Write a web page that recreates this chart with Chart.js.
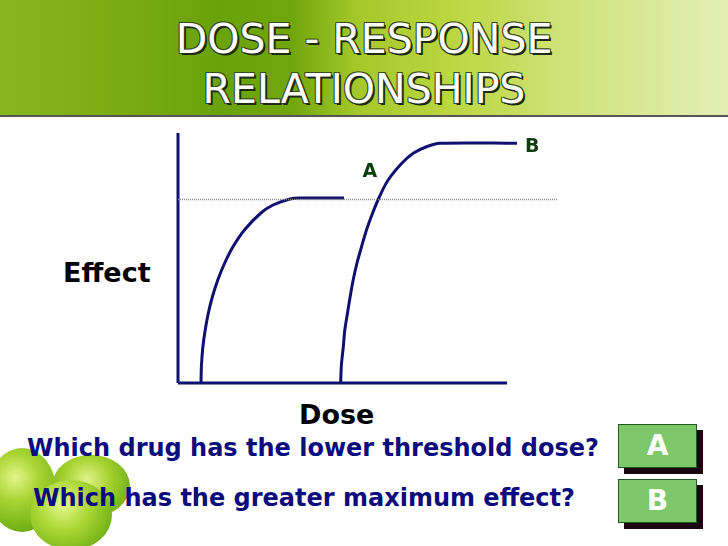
<!DOCTYPE html>
<html>
<head>
<meta charset="utf-8">
<script src="https://cdn.jsdelivr.net/npm/chart.js@4/dist/chart.umd.min.js"></script>
<style>
  html, body { margin: 0; padding: 0; }
  body { width: 728px; height: 546px; position: relative; overflow: hidden; background: #fff; font-family: "DejaVu Sans", Verdana, sans-serif; }
  #header {
    position: absolute; left: 0; top: 0; width: 728px; height: 115px;
    background: linear-gradient(90deg, #88b620 0%, #7cae12 14%, #6aa20a 30%, #70a60a 40%, #a4c82a 49%, #bcd640 62%, #d0e27a 78%, #e4eeb6 100%);
    border-bottom: 2px solid #555;
  }
  .title {
    position: absolute; left: 0; width: 728px; text-align: center;
    color: #fff; font-size: 41px; line-height: 1;
    text-shadow: 2px 2px 0 #1e2a10, -1px -1px 0 #3a4a20, 1px -1px 0 #3a4a20, -1px 1px 0 #3a4a20;
  }
  #chartBox { position: absolute; left: 168px; top: 123px; width: 400px; height: 270px; }
  .axisTitle { position: absolute; font-weight: bold; font-size: 27px; color: #000; white-space: nowrap; }
  .question { position: absolute; font-weight: bold; font-size: 24px; color: #0c0c7c; white-space: nowrap; z-index: 2; }
  .box {
    position: absolute; width: 77px; height: 42px; background: #7cc86a;
    border: 1px solid #1f5a1f; color: #fff; font-weight: bold; font-size: 28px;
    text-align: center; line-height: 42px; box-shadow: 6px 6px 0 #1a0612;
  }
  .apple { position: absolute; border-radius: 50%; z-index: 1; }
</style>
</head>
<body>
<div id="header"></div>
<div class="title" style="top:19px">DOSE - RESPONSE</div>
<div class="title" style="top:69px">RELATIONSHIPS</div>

<div id="chartBox"><canvas id="doseChart"></canvas></div>

<div class="axisTitle" style="left:63px; top:257px">Effect</div>
<div class="axisTitle" style="left:299px; top:399px">Dose</div>

<div class="apple" style="left:-12px; top:448px; width:68px; height:84px; background: radial-gradient(circle at 40% 35%, #e4f68a 0%, #a8d432 35%, #7ab81a 70%, #5a9410 100%);"></div>
<div class="apple" style="left:52px; top:455px; width:78px; height:62px; background: radial-gradient(circle at 45% 40%, #e0f488 0%, #a6d230 40%, #78b41a 75%, #5c9612 100%);"></div>
<div class="apple" style="left:30px; top:480px; width:82px; height:70px; background: radial-gradient(circle at 40% 35%, #e6f890 0%, #acd836 38%, #7cb81c 72%, #5a9410 100%);"></div>

<div class="question" style="left:27px; top:434px">Which drug has the lower threshold dose?</div>
<div class="question" style="left:33px; top:484px">Which has the greater maximum effect?</div>

<div class="box" style="left:618px; top:424px">A</div>
<div class="box" style="left:618px; top:479px">B</div>

<script>
'use strict'

// dose axis runs 0..100, effect axis 0..100
const doseA   = [6.05, 6.18, 6.55, 7.16, 7.97, 9.05, 10.47, 12.29, 14.47, 17.47, 21.74, 25.0, 29.47, 32.1, 43.7];
const effectA = [0, 7.2, 14.5, 21.2, 27.9, 34.5, 41.2, 48.0, 54.5, 61.2, 67.9, 71.2, 73.6, 74.0, 74.0];

const doseB   = [42.8, 43.0, 43.5, 43.9, 44.6, 45.3, 46.1, 47.1, 48.3, 49.6, 51.2, 53.0, 55.3, 58.9, 61.9, 65.4, 68.9, 89.2];
const effectB = [0, 7.2, 14.5, 21.2, 27.9, 34.5, 41.2, 48.0, 54.5, 61.2, 67.9, 74.5, 81.2, 87.9, 91.9, 94.5, 95.9, 95.9];

const maxEffectA = 73.4;      // dotted reference line
const xAxisEnd = 86.6;
const yAxisTop = 100;

const curveLabels = ['A', 'B'];
const curveLabelDose = [50.5, 93.2];
const curveLabelEffect = [84.4, 94.4];

const navy = '#101070';

function pts(xs, ys) {
    return xs.map(function (x, i) { return { x: x, y: ys[i] }; });
}

const labelPlugin = {
    id: 'curveLabels',
    afterDatasetsDraw: function (chart) {
        const ctx = chart.ctx;
        const sx = chart.scales.x, sy = chart.scales.y;
        ctx.save();
        ctx.font = 'bold 19px "DejaVu Sans", Verdana, sans-serif';
        ctx.fillStyle = '#0f3f10';
        ctx.textAlign = 'center';
        ctx.textBaseline = 'middle';
        curveLabels.forEach(function (t, i) {
            ctx.fillText(t, sx.getPixelForValue(curveLabelDose[i]), sy.getPixelForValue(curveLabelEffect[i]));
        });
        ctx.restore();
    }
};

const lineStyle = { borderColor: navy, borderWidth: 3, pointRadius: 0, fill: false, clip: false };

new Chart(document.getElementById('doseChart'), {
    type: 'line',
    data: {
        datasets: [
            { label: 'max A', data: [{ x: 0, y: maxEffectA }, { x: 100, y: maxEffectA }],
                borderColor: '#8a8a8a', borderWidth: 1.5, borderDash: [1, 1], pointRadius: 0, fill: false, clip: false },
            Object.assign({ label: 'A', data: pts(doseA, effectA), tension: 0.3 }, lineStyle),
            Object.assign({ label: 'B', data: pts(doseB, effectB), tension: 0.3 }, lineStyle),
            Object.assign({ label: 'x axis', data: [{ x: 0, y: 0 }, { x: xAxisEnd, y: 0 }] }, lineStyle),
            Object.assign({ label: 'y axis', data: [{ x: 0, y: 0 }, { x: 0, y: yAxisTop }] }, lineStyle)
        ]
    },
    options: {
        responsive: true,
        maintainAspectRatio: false,
        animation: false,
        layout: { padding: 10 },
        plugins: { legend: { display: false }, tooltip: { enabled: false } },
        scales: {
            x: { type: 'linear', min: 0, max: 100, display: false },
            y: { type: 'linear', min: 0, max: 100, display: false }
        }
    },
    plugins: [labelPlugin]
});
</script>
</body>
</html>
